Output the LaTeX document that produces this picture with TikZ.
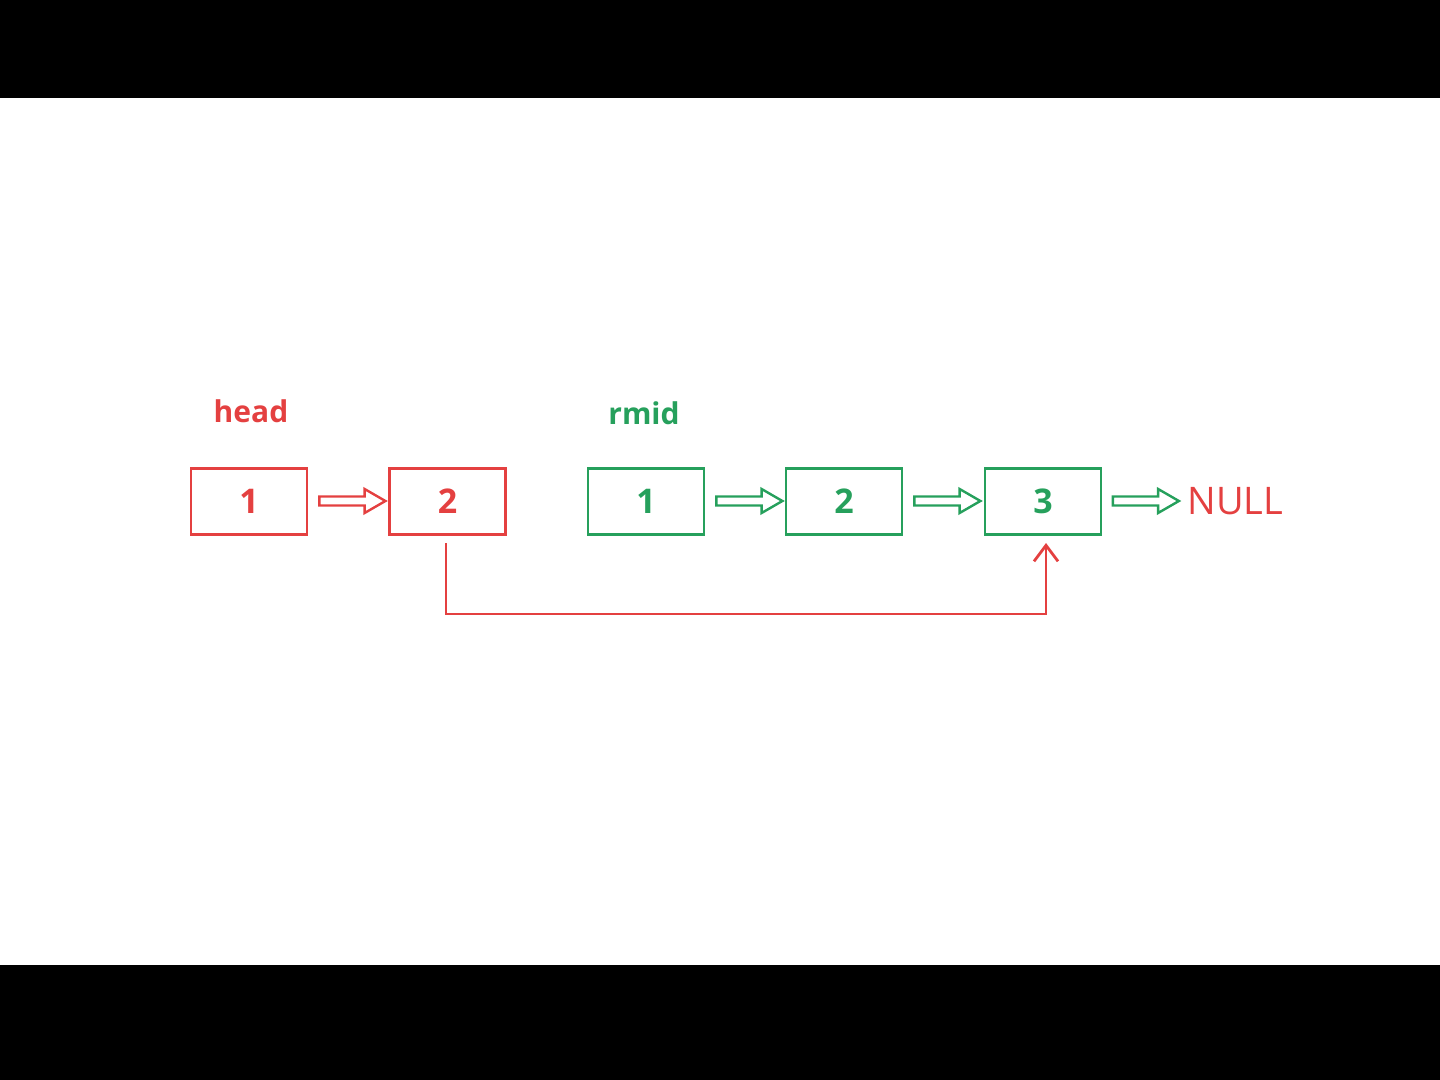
\documentclass[tikz,border=0pt]{standalone}
\usepackage{fontspec}
\setmainfont{Open Sans}
\usetikzlibrary{shapes.arrows,arrows.meta}
\definecolor{rd}{RGB}{228,64,64}
\definecolor{gn}{RGB}{38,160,92}
\begin{document}
\begin{tikzpicture}[x=0.5pt,y=-0.5pt,
 box/.style={draw,line width=1.4pt,minimum width=58pt,minimum height=33pt,inner sep=0pt,font=\fontsize{17}{17}\selectfont\bfseries},
 barr/.style={single arrow,draw,line width=1.2pt,minimum width=12pt,single arrow head extend=3.5pt,single arrow tip angle=60,minimum height=33pt,inner sep=1.5pt}]
\useasboundingbox (0,0) rectangle (1440,1080);
\fill[black] (0,0) rectangle (1440,98);
\fill[black] (0,965) rectangle (1440,1080);
\node[box,rd] (r1) at (249,501.5) {1};
\node[box,rd] (r2) at (447.5,501.5) {2};
\node[box,gn] (g1) at (646,501.5) {1};
\node[box,gn] (g2) at (844,501.5) {2};
\node[box,gn] (g3) at (1043,501.5) {3};
\node[barr,rd] (a1) at (348.5,501) {};
\node[barr,gn] (a2) at (745.5,501) {};
\node[barr,gn] (a3) at (943.5,501) {};
\node[barr,gn] (a4) at (1142,501) {};
\node[rd,font=\fontsize{19}{19}\selectfont,anchor=west,inner sep=0pt] (null) at (1187,501) {NULL};
\node[rd,font=\fontsize{15}{15}\selectfont\bfseries] (head) at (251,411) {head};
\node[gn,font=\fontsize{15}{15}\selectfont\bfseries] (rmid) at (644,413) {rmid};
\coordinate (s) at (446,543);
\coordinate (e) at (1046,543);
\draw[rd,line width=1.4pt,-{Straight Barb[length=8pt,width=12pt]}] (s) -- (446,614) -- (1046,614) -- (e);
\end{tikzpicture}
\end{document}
